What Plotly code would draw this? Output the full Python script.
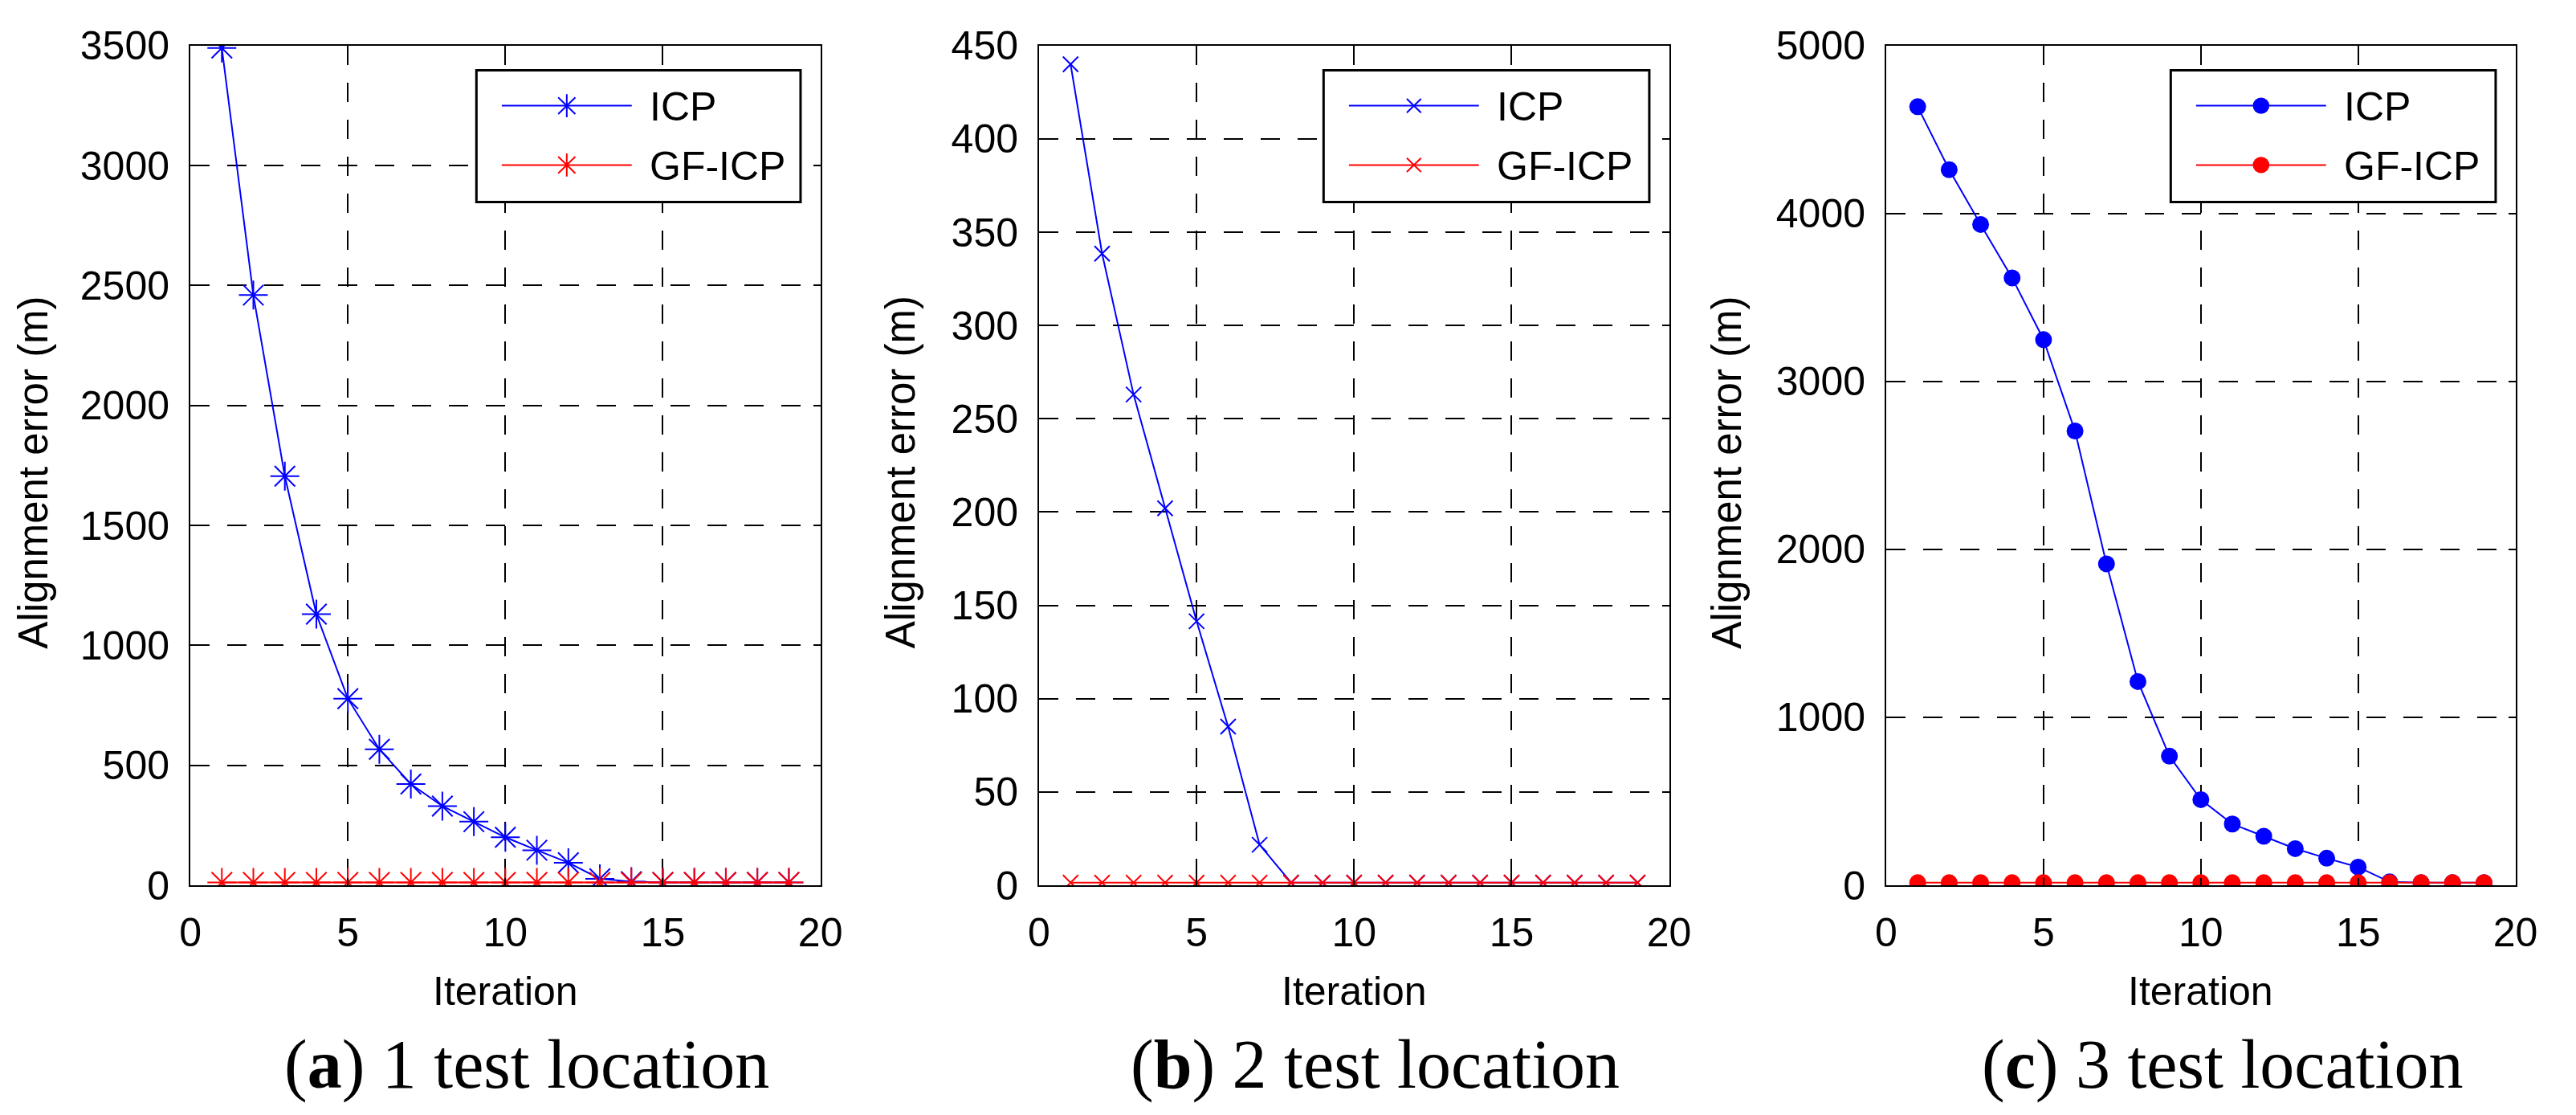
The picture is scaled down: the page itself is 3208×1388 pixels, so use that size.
import plotly.graph_objects as go

# ---------------- data ----------------
iterations = [1, 2, 3, 4, 5, 6, 7, 8, 9, 10, 11, 12, 13, 14, 15, 16, 17, 18, 19]
series_names = ["ICP", "GF-ICP"]
x_ticks = [0, 5, 10, 15, 20]

icp_a = [3490, 2460, 1705, 1130, 778, 567, 422, 330, 265, 200, 146, 94, 27, 15, 12, 12, 12, 12, 12]
gf_a = [12, 12, 12, 12, 12, 12, 12, 12, 12, 12, 12, 12, 12, 12, 12, 12, 12, 12, 12]
y_ticks_a = [0, 500, 1000, 1500, 2000, 2500, 3000, 3500]

icp_b = [440, 338.5, 263, 202, 141.5, 85, 21.7, 1.4, 1.4, 1.4, 1.4, 1.4, 1.4, 1.4, 1.4, 1.4, 1.4, 1.4, 1.4]
gf_b = [1.4, 1.4, 1.4, 1.4, 1.4, 1.4, 1.4, 1.4, 1.4, 1.4, 1.4, 1.4, 1.4, 1.4, 1.4, 1.4, 1.4, 1.4, 1.4]
y_ticks_b = [0, 50, 100, 150, 200, 250, 300, 350, 400, 450]

icp_c = [4636, 4261, 3935, 3617, 3249, 2705, 1914, 1213, 769, 510, 365, 292, 218, 161, 108, 20, 15, 15, 15]
gf_c = [15, 15, 15, 15, 15, 15, 15, 15, 15, 15, 15, 15, 15, 15, 15, 15, 15, 15, 15]
y_ticks_c = [0, 1000, 2000, 3000, 4000, 5000]

captions = ["(<b>a</b>) 1 test location", "(<b>b</b>) 2 test location", "(<b>c</b>) 3 test location"]
x_title = "Iteration"
y_title = "Alignment error (m)"

# ---------------- layout geometry (pixels) ----------------
W, H = 3208, 1388
panel_px = [(226, 1021), (1297, 2092), (2366, 3160)]
top_px, bottom_px = 30, 1120
ytitle_x_px = [27, 1122, 2164]
legend_box_px = [(587, 996), (1656, 2067), (2725, 3135)]

BLUE = "#0000FF"
RED = "#FF0000"
SANS = "Liberation Sans, Arial, sans-serif"
SERIF = "Liberation Serif, Times New Roman, serif"


def px(x):
    return x / W


def py(y):
    return 1 - y / H


fig = go.Figure()

panels = [
    (icp_a, gf_a, y_ticks_a, "asterisk-open", 30, 2),
    (icp_b, gf_b, y_ticks_b, "x-thin-open", 19, 2),
    (icp_c, gf_c, y_ticks_c, "circle", 21, 0),
]

shapes = []
annotations = []

for i, (icp, gf, yt, sym, msize, mlw) in enumerate(panels):
    n = "" if i == 0 else str(i + 1)
    xa = "x" + n
    ya = "y" + n
    for vals, color in ((icp, BLUE), (gf, RED)):
        fig.add_trace(go.Scatter(
            x=iterations, y=vals, mode="lines+markers", xaxis=xa, yaxis=ya,
            line=dict(color=color, width=2),
            marker=dict(symbol=sym, size=msize, color=color,
                        line=dict(color=color, width=mlw)),
            showlegend=False, name=series_names[0 if color == BLUE else 1],
        ))
    x0, x1 = panel_px[i]
    axis_common = dict(
        showline=True, linecolor="black", linewidth=2, mirror="ticks",
        ticks="inside", ticklen=9, tickwidth=2, tickcolor="black",
        showgrid=True, gridcolor="black", gridwidth=2, griddash="24px,22px",
        zeroline=False, tickfont=dict(family=SANS, size=50, color="black"),
    )
    fig.update_layout(**{
        "xaxis" + n: dict(domain=[px(x0), px(x1)], range=[0, 20], tickvals=x_ticks,
                          anchor=ya, ticklabelstandoff=14, **axis_common),
        "yaxis" + n: dict(domain=[py(bottom_px), py(top_px)], range=[0, yt[-1]],
                          tickvals=yt, anchor=xa, ticklabelstandoff=14, **axis_common),
    })
    cx = (x0 + x1) / 2
    # axis titles
    annotations.append(dict(text=x_title, x=px(cx), y=py(1258), xref="paper", yref="paper",
                            showarrow=False, xanchor="center", yanchor="middle",
                            font=dict(family=SANS, size=50, color="black")))
    annotations.append(dict(text=y_title, x=px(ytitle_x_px[i]), y=py(584), xref="paper",
                            yref="paper", showarrow=False, textangle=-90,
                            xanchor="center", yanchor="middle",
                            font=dict(family=SANS, size=51, color="black")))
    annotations.append(dict(text=captions[i], x=px(cx + 27), y=py(1353), xref="paper",
                            yref="paper", showarrow=False, xanchor="center", yanchor="middle",
                            font=dict(family=SERIF, size=86, color="black")))

    # custom legend box
    bx0, bx1 = legend_box_px[i]
    shapes.append(dict(type="rect", xref="paper", yref="paper", x0=px(bx0), x1=px(bx1),
                       y0=py(233), y1=py(62), fillcolor="white",
                       line=dict(color="black", width=3), layer="above"))
    lx0, lx1 = bx0 + 32, bx0 + 196
    mx = bx0 + 114
    for k, (ly, color) in enumerate(((108, BLUE), (185, RED))):
        shapes.append(dict(type="line", xref="paper", yref="paper", x0=px(lx0), x1=px(lx1),
                           y0=py(ly), y1=py(ly), line=dict(color=color, width=2),
                           layer="above"))
        if sym == "asterisk-open":
            r = 15
            d = r * 0.72
            path = (f"M{px(mx)},{py(ly - r)} L{px(mx)},{py(ly + r)} "
                    f"M{px(mx - d)},{py(ly - d)} L{px(mx + d)},{py(ly + d)} "
                    f"M{px(mx - d)},{py(ly + d)} L{px(mx + d)},{py(ly - d)}")
            shapes.append(dict(type="path", path=path, xref="paper", yref="paper",
                               line=dict(color=color, width=2), layer="above"))
        elif sym == "x-thin-open":
            d = 9
            path = (f"M{px(mx - d)},{py(ly - d)} L{px(mx + d)},{py(ly + d)} "
                    f"M{px(mx - d)},{py(ly + d)} L{px(mx + d)},{py(ly - d)}")
            shapes.append(dict(type="path", path=path, xref="paper", yref="paper",
                               line=dict(color=color, width=2), layer="above"))
        else:
            r = 10.5
            shapes.append(dict(type="circle", xref="paper", yref="paper",
                               x0=px(mx - r), x1=px(mx + r), y0=py(ly + r), y1=py(ly - r),
                               fillcolor=color, line=dict(color=color, width=0),
                               layer="above"))
        annotations.append(dict(text=series_names[k], x=px(bx0 + 217), y=py(ly + 2),
                                xref="paper", yref="paper", showarrow=False,
                                xanchor="left", yanchor="middle",
                                font=dict(family=SANS, size=50, color="black")))

fig.update_layout(
    width=W, height=H,
    margin=dict(l=0, r=0, t=0, b=0),
    paper_bgcolor="white", plot_bgcolor="white",
    shapes=shapes, annotations=annotations,
    showlegend=False,
)

fig.write_html("out.html", config={"displayModeBar": False},
               post_script="document.body.style.margin='0';")
